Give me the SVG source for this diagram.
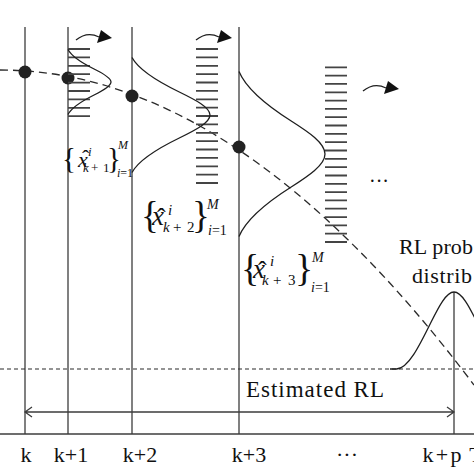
<svg xmlns="http://www.w3.org/2000/svg" width="474" height="474" viewBox="0 0 474 474">
<style>
.v{stroke:#3c3c3c;stroke-width:1.3;fill:none}
.c{stroke:#1e1e1e;stroke-width:1.3;fill:none}
.h{stroke:#444;stroke-width:1.8;fill:none}
.d{stroke:#2a2a2a;stroke-width:1.3;fill:none;stroke-dasharray:8 5}
.d2{stroke:#2a2a2a;stroke-width:1.2;fill:none;stroke-dasharray:4 3}
.dot{fill:#222}
.ah{fill:#111}
.t{font-family:"Liberation Serif","Times New Roman",serif;fill:#111}
.i{font-style:italic}
</style>
<rect width="474" height="474" fill="#fff"/>
<g id="axes">
<line class="v" x1="0" y1="434" x2="474" y2="434"/>
<line class="v" x1="25" y1="27" x2="25" y2="434"/>
<line class="v" x1="68" y1="27" x2="68" y2="434"/>
<line class="v" x1="132" y1="27" x2="132" y2="434"/>
<line class="v" x1="239" y1="27" x2="239" y2="434"/>
<line class="v" x1="454" y1="292" x2="454" y2="434"/>
<line class="d2" x1="0" y1="369" x2="474" y2="369"/>
</g>
<g id="connectors">
<path class="d" d="M0,70 Q237,70 474,385"/>
<path class="v" d="M25,412 H454 M32,407 L25,412 L32,417 M447,407 L454,412 L447,417"/>
<path class="c" d="M76,40 Q87,31 99,37"/>
<polygon class="ah" points="101,30 112,38 97,43"/>
<path class="c" d="M196,40 Q207,31 219,37"/>
<polygon class="ah" points="221,30 232,38 217,43"/>
<path class="c" d="M363,91 Q374,82 386,88"/>
<polygon class="ah" points="388,81 399,89 384,94"/>
</g>
<g id="dots">
<circle class="dot" cx="25" cy="72" r="6.5"/>
<circle class="dot" cx="68" cy="78" r="6.5"/>
<circle class="dot" cx="132" cy="96" r="6.5"/>
<circle class="dot" cx="239" cy="147" r="6.5"/>
</g>
<g id="dist-k1">
<path class="h" d="M68,49h22M68,57.4h22M68,65.8h22M68,74.2h22M68,82.6h22M68,91h22M68,99.4h22M68,107.8h22M68,116.2h22"/>
<path class="c" d="M68,49.5 C71.4,56 81,62.5 94.1,69 C102.8,73.3 111,77.7 111,82 C111,86.3 102.8,90.7 94.1,95 C81,101.5 71.4,108 68,114.5"/>
</g>
<g id="dist-k2">
<path class="h" d="M196,49h22M196,57.4h22M196,65.8h22M196,74.1h22M196,82.5h22M196,90.9h22M196,99.3h22M196,107.6h22M196,116h22M196,124.4h22M196,132.8h22M196,141.1h22M196,149.5h22M196,157.9h22M196,166.3h22M196,174.6h22M196,183h22"/>
<path class="c" d="M132,57.5 C138.2,69 155.6,80.5 179.3,92 C195.1,99.7 210,107.3 210,115 C210,122.7 195.1,130.3 179.3,138 C155.6,149.5 138.2,161 132,172.5"/>
</g>
<g id="dist-k3">
<path class="h" d="M325,67.3h22M325,75.6h22M325,83.9h22M325,92.3h22M325,100.6h22M325,108.9h22M325,117.2h22M325,125.5h22M325,133.9h22M325,142.2h22M325,150.5h22M325,158.8h22M325,167.1h22M325,175.5h22M325,183.8h22M325,192.1h22M325,200.4h22M325,208.7h22M325,217.1h22M325,225.4h22M325,233.7h22M325,242h22"/>
<path class="c" d="M239,71.5 C245.9,88 265.1,104.5 291.2,121 C308.5,132 325,143 325,154 C325,165 308.5,176 291.2,187 C265.1,203.5 245.9,220 239,236.5"/>
<text class="t" x="369" y="188" font-size="20">···</text>
</g>
<g id="rl-dist">
<path class="c" d="M390,369 H396.5 C408,369 419.5,345.7 431,322.3 C438.7,306.7 446.3,292 454,292 C461.7,292 469.3,306.7 477,322.3"/>
<text class="t" x="399" y="254" font-size="22" textLength="74">RL prob</text>
<text class="t" x="412" y="283" font-size="22" textLength="60">distrib</text>
</g>
<g id="label-k1">
<text class="t" font-size="13"><tspan x="62" y="168" font-size="29">{</tspan><tspan x="78" y="167" font-size="22" class="i">x</tspan><tspan x="82" y="165" font-size="22">ˆ</tspan><tspan x="88" y="156" class="i">i</tspan><tspan x="83" y="172" class="i">k</tspan><tspan x="91" y="172">+</tspan><tspan x="103" y="172">1</tspan><tspan x="107" y="168" font-size="29">}</tspan><tspan x="118" y="149" font-size="12" class="i">M</tspan><tspan x="117" y="177" font-size="12" class="i">i</tspan><tspan font-size="12">=1</tspan></text>
</g>
<g id="label-k2">
<text class="t" font-size="15"><tspan x="141" y="228" font-size="37">{</tspan><tspan x="152" y="225" font-size="27" class="i">x</tspan><tspan x="157" y="225.5" font-size="26">ˆ</tspan><tspan x="168" y="215" class="i">i</tspan><tspan x="163" y="232" class="i">k</tspan><tspan x="173" y="232">+</tspan><tspan x="187" y="232">2</tspan><tspan x="192" y="228" font-size="37">}</tspan><tspan x="207" y="209" font-size="14" class="i">M</tspan><tspan x="208" y="235" font-size="14" class="i">i</tspan><tspan font-size="14">=1</tspan></text>
</g>
<g id="label-k3">
<text class="t" font-size="15"><tspan x="241" y="281" font-size="38">{</tspan><tspan x="253" y="278" font-size="27" class="i">x</tspan><tspan x="258" y="278.5" font-size="26">ˆ</tspan><tspan x="270" y="266" class="i">i</tspan><tspan x="262" y="285" class="i">k</tspan><tspan x="273" y="285">+</tspan><tspan x="288" y="285">3</tspan><tspan x="295" y="281" font-size="38">}</tspan><tspan x="312" y="262" font-size="14" class="i">M</tspan><tspan x="311" y="292" font-size="14" class="i">i</tspan><tspan font-size="14">=1</tspan></text>
</g>
<g id="estimated-rl">
<text class="t" x="246" y="397" font-size="23" textLength="138">Estimated RL</text>
</g>
<g id="tick-labels" class="t" font-size="22" text-anchor="middle">
<text x="26" y="462">k</text>
<text x="71" y="462">k+1</text>
<text x="140" y="462">k+2</text>
<text x="249" y="462">k+3</text>
<text x="347" y="462">···</text>
<text x="442" y="462" textLength="39">k+p</text>
<text x="476" y="462">T</text>
</g>
</svg>
